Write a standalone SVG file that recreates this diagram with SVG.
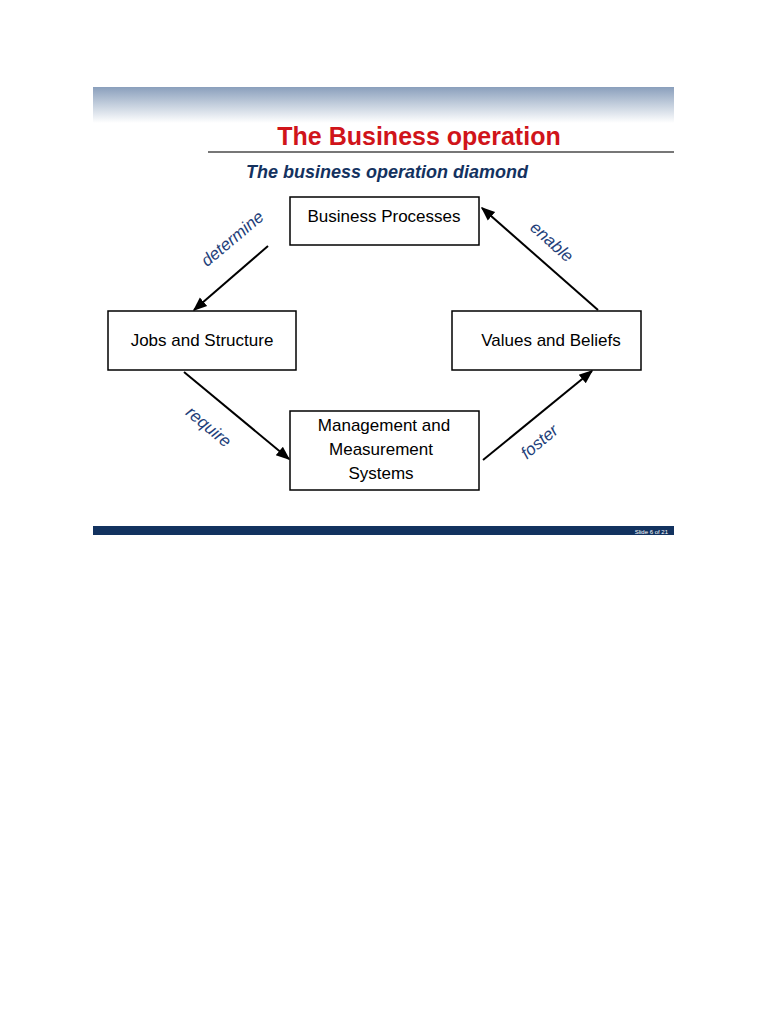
<svg xmlns="http://www.w3.org/2000/svg" width="768" height="1024" viewBox="0 0 768 1024">
<defs>
<linearGradient id="hdr" x1="0" y1="0" x2="0" y2="1">
<stop offset="0" stop-color="#8a9fbc"/><stop offset="0.5" stop-color="#c5d0de"/><stop offset="1" stop-color="#ffffff"/>
</linearGradient>
<marker id="ah" viewBox="0 0 10 10" refX="9" refY="5" markerWidth="7" markerHeight="7" orient="auto"><path d="M0,1 L10,5 L0,9 z" fill="#000"/></marker>
<style>
.box{fill:#fff;stroke:#000;stroke-width:1.5}
.t{font-family:"Liberation Sans",Arial,sans-serif;font-size:17px;fill:#000;text-anchor:middle}
.lbl{font-family:"Liberation Sans",Arial,sans-serif;font-size:17px;font-style:italic;fill:#1f3f7a;text-anchor:middle}
.c{stroke:#000;stroke-width:2;fill:none;marker-end:url(#ah)}
</style>
</defs>
<rect width="768" height="1024" fill="#fff"/>
<rect x="93" y="87" width="581" height="36" fill="url(#hdr)"/>
<text x="419" y="145" font-family="Liberation Sans,Arial,sans-serif" font-size="25" font-weight="bold" fill="#d0141a" text-anchor="middle">The Business operation</text>
<line x1="208" y1="152" x2="674" y2="152" stroke="#777" stroke-width="2"/>
<text x="387" y="178" font-family="Liberation Sans,Arial,sans-serif" font-size="18" font-weight="bold" font-style="italic" fill="#14325f" text-anchor="middle">The business operation diamond</text>
<rect x="93" y="526" width="581" height="9" fill="#12325f"/>
<text x="668" y="533.5" font-family="Liberation Sans,Arial,sans-serif" font-size="6" fill="#fff" text-anchor="end">Slide 6 of 21</text>
<g id="connectors">
<line class="c" x1="268" y1="246" x2="194" y2="310"/>
<line class="c" x1="598" y1="310" x2="482" y2="208"/>
<line class="c" x1="184" y1="372" x2="289" y2="459"/>
<line class="c" x1="483" y1="460" x2="592" y2="371"/>
<text class="lbl" transform="translate(236,243) rotate(-40)">determine</text>
<text class="lbl" transform="translate(548,246) rotate(42)">enable</text>
<text class="lbl" transform="translate(205,431) rotate(40)">require</text>
<text class="lbl" transform="translate(543,446) rotate(-40)">foster</text>
</g>
<g id="bp"><rect class="box" x="290" y="197" width="189" height="48"/><text class="t" x="384" y="222">Business Processes</text></g>
<g id="js"><rect class="box" x="108" y="311" width="188" height="59"/><text class="t" x="202" y="346">Jobs and Structure</text></g>
<g id="vb"><rect class="box" x="452" y="311" width="189" height="59"/><text class="t" x="551" y="346">Values and Beliefs</text></g>
<g id="mm"><rect class="box" x="290" y="411" width="189" height="79"/><text class="t" x="384" y="431">Management and</text><text class="t" x="381" y="455">Measurement</text><text class="t" x="381" y="479">Systems</text></g>
</svg>
